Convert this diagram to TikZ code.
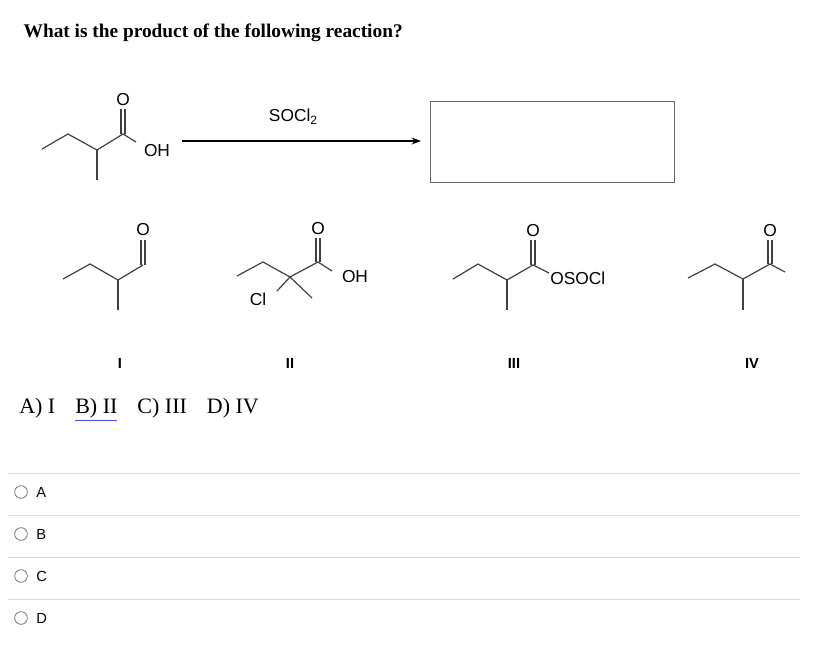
\documentclass[tikz,border=0pt]{standalone}
\usepackage{fontspec}
\setmainfont{Liberation Serif}
\newfontfamily\chemfont{Liberation Sans}
\usetikzlibrary{arrows.meta}
\begin{document}
\begin{tikzpicture}[x=0.75pt,y=-0.75pt,
  bond/.style={line width=0.9pt,draw=black!75},
  atom/.style={font=\chemfont\fontsize{13}{13}\selectfont,inner sep=0pt},
  roman/.style={font=\chemfont\bfseries\fontsize{11}{11}\selectfont,inner sep=0pt},
  sep/.style={draw=black!15,line width=0.6pt},
  radio/.style={draw=black!55,line width=0.6pt,circle,minimum size=9.5pt,inner sep=0pt},
  opt/.style={font=\chemfont\fontsize{11}{11}\selectfont,anchor=west,inner sep=0pt}]
\useasboundingbox (0,0) rectangle (818,647);
\node[anchor=west,font=\bfseries\fontsize{14.5}{14.5}\selectfont] (q) at (19,33) {What is the product of the following reaction?};
% reactant
\draw[bond] (42,149)--(68,134)--(97,150)--(123,134)--(136,142);
\draw[bond] (97,150)--(97,180);
\draw[bond] (121,134)--(121,109) (125,134)--(125,109);
\node[atom] (r1o) at (123,100) {O};
\node[atom] (r1oh) at (157,151) {OH};
\coordinate (as) at (182,141);
\coordinate (ae) at (421,141);
\draw[line width=0.9pt,-{Stealth[length=7pt]}] (as)--(ae);
\node[atom] (socl) at (293,117) {SOCl\raisebox{-0.35ex}{\fontsize{9}{9}\selectfont 2}};
\node[draw=black!60,line width=1pt,minimum width=183pt,minimum height=61pt] (box) at (552.5,142) {};
% I
\draw[bond] (63,279)--(90,264)--(118,280)--(143,265);
\draw[bond] (118,280)--(118,310);
\draw[bond] (141,265)--(141,240) (145,265)--(145,240);
\node[atom] (o1) at (143,230) {O};
\node[roman] (l1) at (120,363) {I};
% II
\draw[bond] (237,276)--(263,262)--(290,277)--(318,262)--(332,271);
\draw[bond] (290,277)--(312,298);
\draw[bond] (290,277)--(277,291);
\draw[bond] (316,262)--(316,238) (320,262)--(320,238);
\node[atom] (o2) at (318,229) {O};
\node[atom] (oh2) at (355,277) {OH};
\node[atom] (cl2) at (258,299) {Cl};
\node[roman] (l2) at (290,363) {II};
% III
\draw[bond] (453,279)--(478,264)--(507,280)--(533,265)--(549,273);
\draw[bond] (507,280)--(507,310);
\draw[bond] (531,265)--(531,240) (535,265)--(535,240);
\node[atom] (o3) at (533,231) {O};
\node[atom,anchor=west] (os) at (550,278) {OSOCl};
\node[roman] (l3) at (514,363) {III};
% IV
\draw[bond] (688,278)--(715,264)--(743,279)--(770,264)--(785,272);
\draw[bond] (743,279)--(743,310);
\draw[bond] (768,264)--(768,240) (772,264)--(772,240);
\node[atom] (o4) at (770,231) {O};
\node[roman] (l4) at (752,363) {IV};
% answers
\node[anchor=west,font=\fontsize{16.5}{16.5}\selectfont,inner sep=0pt] (ans) at (19,410) {A) I\hspace{15pt}\textcolor{blue!70}{\underline{\textcolor{black}{B) II}}}\hspace{15pt}C) III\hspace{15pt}D) IV};
\foreach \y/\t [count=\i] in {473/A,515/B,557/C,599/D}{
  \draw[sep] (8,\y)--(800,\y);
  \node[radio] (rb\i) at (21,\y+19) {};
  \node[opt] (ol\i) at (36,\y+19) {\t};
}
\end{tikzpicture}
\end{document}
